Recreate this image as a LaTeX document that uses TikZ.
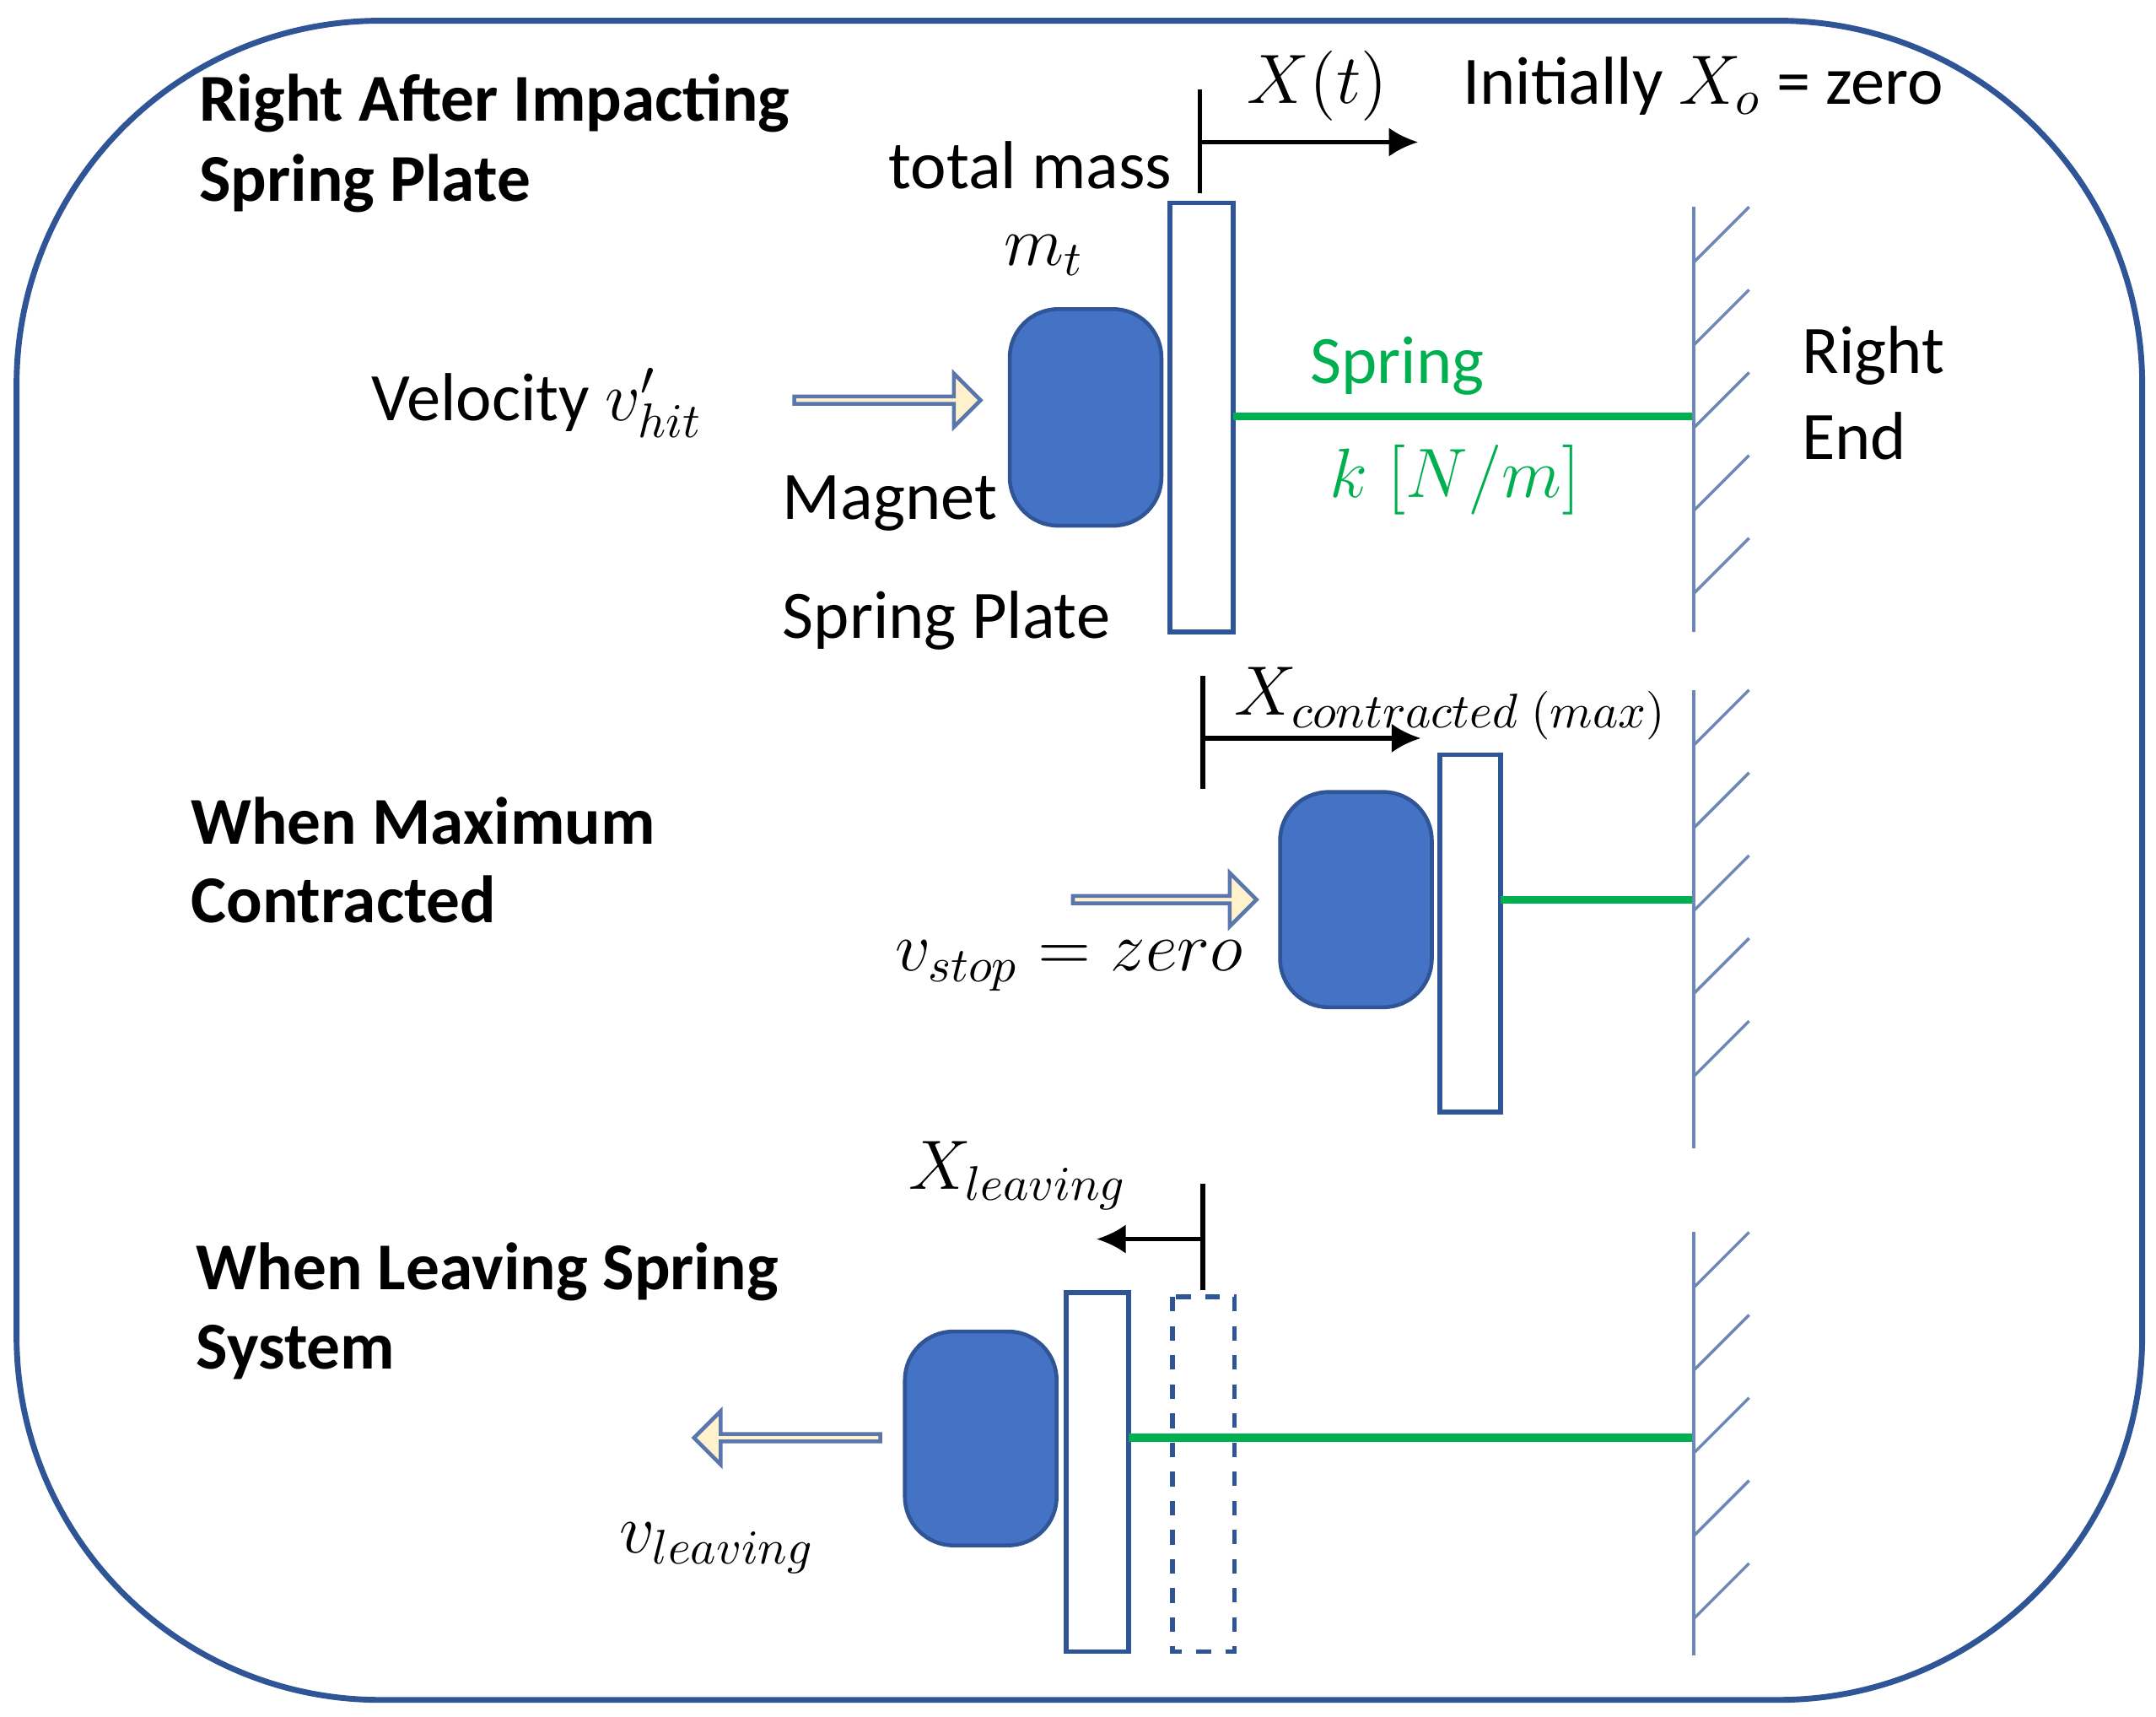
\documentclass[tikz,border=0pt]{standalone}
\usepackage{fontspec}
\setmainfont{Carlito}
\usetikzlibrary{shapes.arrows,arrows.meta}
\definecolor{frame}{HTML}{2F5597}
\definecolor{magnet}{HTML}{4472C4}
\definecolor{plate}{HTML}{2F5597}
\definecolor{spring}{HTML}{00B050}
\definecolor{arrfill}{HTML}{FFF2CC}
\tikzset{
  title/.style={anchor=west,font=\fontsize{13.8}{16}\selectfont\bfseries},
  lbl/.style={font=\fontsize{14}{17}\selectfont},
  mlbl/.style={font=\fontsize{14.5}{17}\selectfont},
  magnet/.style={fill=magnet,draw=plate,rounded corners=10pt,line width=0.8pt},
  plate/.style={fill=white,draw=plate,line width=1pt},
  spring/.style={draw=spring,line width=1.6pt},
  wall/.style={draw=frame!70,line width=0.6pt},
  dim/.style={-{Latex[length=6pt,width=6pt]},line width=0.9pt},
  blk/.style={single arrow,draw=frame!80,fill=arrfill,line width=0.8pt,
    single arrow head extend=2.5pt,minimum width=11pt,inner sep=0pt,single arrow tip angle=90},
}
\newcommand{\wallat}[2]{% y-top y-bottom
  \draw[wall] (1228,#1) -- (1228,#2);
  \pgfmathtruncatemacro{\wa}{#1+40}%
  \pgfmathtruncatemacro{\wb}{#1+100}%
  \foreach \y in {\wa,\wb,...,#2} \draw[wall] (1228,\y) -- (1268,\y-40);
}
\begin{document}
\begin{tikzpicture}[x=0.01cm,y=-0.01cm]
\useasboundingbox (0,0) rectangle (1563,1244);
\draw[frame,line width=1.2pt,rounded corners=75pt] (12,15) rectangle (1553,1232);

% ---- section 1
\node[title] (t1a) at (132,75) {Right After Impacting};
\node[title] (t1b) at (132,133) {Spring Plate};
\draw[line width=0.9pt] (870,65) -- (870,140);
\coordinate (xa) at (870,103); \coordinate (xb) at (1028,103);
\draw[dim] (xa) -- (xb);
\node[mlbl] (xt) at (955,62) {$X(t)$};
\node[lbl,anchor=west] (init) at (1048,62) {Initially $X_o$ = zero};
\node[lbl,anchor=east] (tm) at (862,120) {total mass};
\node[mlbl] (mt) at (757,185) {$m_t$};
\draw[plate] (848,147) rectangle (894,458);
\draw[magnet] (732,224) rectangle (842,381);
\coordinate (s1a) at (894,302); \coordinate (s1b) at (1228,302);
\draw[spring] (s1a) -- (s1b);
\node[lbl,text=spring] (sp) at (1013,265) {Spring};
\node[mlbl,text=spring] (k) at (1055,348) {$k\;[N/m]$};
\wallat{150}{458}
\node[lbl,anchor=west] (re1) at (1294,258) {Right};
\node[lbl,anchor=west] (re2) at (1294,316) {End};
\node[blk,minimum height=1.35cm] (a1) at (642,290) {};
\node[lbl,anchor=east] (vel) at (522,292) {Velocity $v'_{hit}$};
\node[lbl,anchor=west] (mag) at (555,365) {Magnet};
\node[lbl,anchor=west] (spl) at (555,450) {Spring Plate};

% ---- section 2
\node[title] (t2a) at (126,595) {When Maximum};
\node[title] (t2b) at (126,652) {Contracted};
\draw[line width=0.9pt] (872,490) -- (872,572);
\coordinate (ca) at (872,535); \coordinate (cb) at (1030,535);
\draw[dim] (ca) -- (cb);
\node[mlbl] (xc) at (1052,510) {$X_{contracted\;(max)}$};
\draw[magnet] (928,574) rectangle (1038,730);
\draw[plate] (1044,547) rectangle (1088,806);
\coordinate (s2a) at (1088,652); \coordinate (s2b) at (1228,652);
\draw[spring] (s2a) -- (s2b);
\wallat{500}{832}
\node[blk,minimum height=1.33cm] (a2) at (843,652) {};
\node[mlbl] (vs) at (775,700) {$v_{stop} = zero$};

% ---- section 3
\node[title] (t3a) at (130,922) {When Leaving Spring};
\node[title] (t3b) at (130,980) {System};
\node[mlbl] (xl) at (738,852) {$X_{leaving}$};
\draw[line width=0.9pt] (872,858) -- (872,935);
\coordinate (la) at (872,898); \coordinate (lb) at (795,898);
\draw[dim] (la) -- (lb);
\draw[plate,dashed] (850,940) rectangle (895,1197);
\draw[plate] (773,937) rectangle (818,1197);
\draw[magnet] (656,965) rectangle (766,1120);
\coordinate (s3a) at (818,1042); \coordinate (s3b) at (1228,1042);
\draw[spring] (s3a) -- (s3b);
\wallat{893}{1200}
\node[blk,minimum height=1.35cm,shape border rotate=180] (a3) at (572,1042) {};
\node[mlbl] (vl) at (520,1122) {$v_{leaving}$};
\end{tikzpicture}
\end{document}
